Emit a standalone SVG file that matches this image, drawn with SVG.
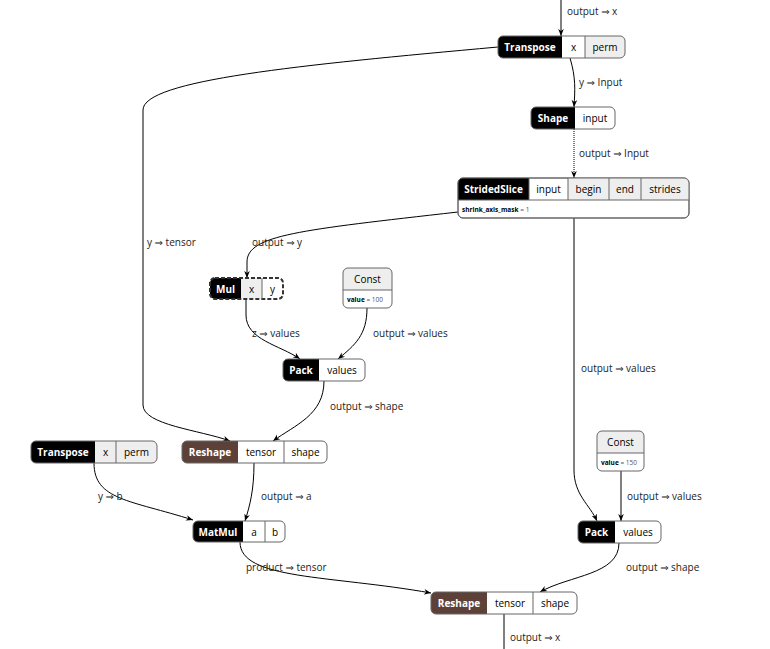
<svg xmlns="http://www.w3.org/2000/svg" width="770" height="649" viewBox="0 0 770 649">
<style>
text{font-family:"Open Sans","DejaVu Sans",sans-serif;font-size:10px;fill:#000}
.t{font-weight:bold;fill:#fff}
.e{fill:none;stroke:#000;stroke-width:1}
.l{font-size:10px;fill:#222}
.b{stroke:#666;stroke-width:1}
.w{fill:#fff}.g{fill:#eee}.k{fill:#000}.r{fill:#5d4037}
.a{font-size:6.5px;fill:#555}
</style>
<defs><marker id="m" viewBox="0 0 10 10" refX="10" refY="5" markerWidth="7" markerHeight="7" orient="auto"><path d="M0,1 L10,5 L0,9 L3,5z" fill="#000"/></marker>
<clipPath id="c1"><rect x="498" y="36" width="127" height="22" rx="5"/></clipPath></defs>
<rect width="770" height="649" fill="#fff"/>
<g id="edges">
<path class="e" d="M561,0 V36" marker-end="url(#m)"/><text class="l" x="567" y="15">output ⇒ x</text>
<path class="e" d="M570,58 C576,78 575,90 574,107" marker-end="url(#m)"/><text class="l" x="579" y="86">y ⇒ Input</text>
<path class="e" d="M574,129 V178" stroke-dasharray="1,1" marker-end="url(#m)"/><text class="l" x="579" y="157">output ⇒ Input</text>
<path class="e" d="M498,47 C300,65 143,80 143,110 V405 C143,425 200,430 230,441" marker-end="url(#m)"/><text class="l" x="147" y="246">y ⇒ tensor</text>
<path class="e" d="M458,212 C300,230 247,235 247,262 V278" marker-end="url(#m)"/><text class="l" x="252" y="246">output ⇒ y</text>
<path class="e" d="M574,218 V470 C574,495 590,505 597,521" marker-end="url(#m)"/><text class="l" x="581" y="372">output ⇒ values</text>
<path class="e" d="M246,299 V315 C246,340 280,345 300,359" marker-end="url(#m)"/><text class="l" x="252" y="337">z ⇒ values</text>
<path class="e" d="M367,308 C367,335 355,345 338,359" marker-end="url(#m)"/><text class="l" x="373" y="337">output ⇒ values</text>
<path class="e" d="M324,381 C324,415 295,425 273,441" marker-end="url(#m)"/><text class="l" x="330" y="410">output ⇒ shape</text>
<path class="e" d="M94,463 C94,500 130,500 193,520" marker-end="url(#m)"/><text class="l" x="98" y="500">y ⇒ b</text>
<path class="e" d="M254,463 C254,490 250,505 245,521" marker-end="url(#m)"/><text class="l" x="261" y="500">output ⇒ a</text>
<path class="e" d="M621,471 V521" marker-end="url(#m)"/><text class="l" x="627" y="500">output ⇒ values</text>
<path class="e" d="M240,542 C240,580 330,575 431,593" marker-end="url(#m)"/><text class="l" x="246" y="571">product ⇒ tensor</text>
<path class="e" d="M619,543 C619,575 570,575 540,592" marker-end="url(#m)"/><text class="l" x="626" y="571">output ⇒ shape</text>
<path class="e" d="M504,614 V649"/><text class="l" x="510" y="641">output ⇒ x</text>
</g>
<g id="transpose1">
<rect class="k" x="498" y="36" width="70" height="22" rx="5"/><rect class="w" x="562" y="36" width="23" height="22"/><rect class="g" x="585" y="36" width="40" height="22" rx="5"/><rect class="g" x="585" y="36" width="20" height="22"/>
<rect x="498" y="36" width="127" height="22" rx="5" fill="none" class="b"/><path class="b" d="M585,36V58"/>
<text class="t" x="530" y="51" text-anchor="middle">Transpose</text><text x="573.5" y="51" text-anchor="middle">x</text><text x="605" y="51" text-anchor="middle">perm</text>
</g>
<g id="shape">
<rect class="k" x="531" y="107" width="50" height="22" rx="5"/><rect class="w" x="575" y="107" width="40" height="22" rx="5"/><rect class="w" x="575" y="107" width="20" height="22"/>
<rect x="531" y="107" width="84" height="22" rx="5" fill="none" class="b"/>
<text class="t" x="553" y="122" text-anchor="middle">Shape</text><text x="595" y="122" text-anchor="middle">input</text>
</g>
<g id="stridedslice">
<rect class="w b" x="458" y="178" width="231" height="40" rx="5"/>
<path class="k" d="M463,178 H529 V200 H458 V183 A5,5 0 0 1 463,178z"/>
<path class="g" d="M568,178 H684 A5,5 0 0 1 689,183 V200 H568z"/>
<path class="b" d="M458,200H689M529,178V200M568,178V200M609,178V200M641,178V200" fill="none"/>
<rect x="458" y="178" width="231" height="40" rx="5" fill="none" class="b"/>
<text class="t" x="493.5" y="193" text-anchor="middle">StridedSlice</text><text x="548.5" y="193" text-anchor="middle">input</text><text x="588.5" y="193" text-anchor="middle">begin</text><text x="625" y="193" text-anchor="middle">end</text><text x="665" y="193" text-anchor="middle">strides</text>
<text class="a" x="462" y="212"><tspan font-weight="bold" fill="#000">shrink_axis_mask</tspan> = 1</text>
</g>
<g id="mul">
<rect class="k" x="210" y="278" width="36" height="21" rx="5"/><rect class="g" x="241" y="278" width="21" height="21"/><rect class="w" x="262" y="278" width="21" height="21" rx="5"/><rect class="w" x="262" y="278" width="10" height="21"/>
<rect x="210" y="278" width="73" height="21" rx="5" fill="none" stroke="#333" stroke-width="2" stroke-dasharray="4,2"/><path d="M262,278V299" stroke="#666"/>
<text class="t" x="225.5" y="292.5" text-anchor="middle">Mul</text><text x="251.5" y="292.5" text-anchor="middle">x</text><text x="272.5" y="292.5" text-anchor="middle">y</text>
</g>
<g id="const1">
<rect class="w" x="343" y="268" width="49" height="40" rx="5"/><path class="g" d="M348,268H387A5,5 0 0 1 392,273V290H343V273A5,5 0 0 1 348,268z"/>
<rect x="343" y="268" width="49" height="40" rx="5" fill="none" class="b"/><path class="b" d="M343,290H392"/>
<text x="367.5" y="283" text-anchor="middle">Const</text><text class="a" x="347" y="302"><tspan font-weight="bold" fill="#000">value</tspan> = 100</text>
</g>
<g id="pack1">
<rect class="k" x="283" y="359" width="42" height="22" rx="5"/><rect class="w" x="319" y="359" width="46" height="22" rx="5"/><rect class="w" x="319" y="359" width="20" height="22"/>
<rect x="283" y="359" width="82" height="22" rx="5" fill="none" class="b"/>
<text class="t" x="301" y="374" text-anchor="middle">Pack</text><text x="342" y="374" text-anchor="middle">values</text>
</g>
<g id="transpose2">
<rect class="k" x="31" y="441" width="70" height="22" rx="5"/><rect class="g" x="95" y="441" width="21" height="22"/><rect class="g" x="116" y="441" width="41" height="22" rx="5"/><rect class="g" x="116" y="441" width="20" height="22"/>
<rect x="31" y="441" width="126" height="22" rx="5" fill="none" class="b"/><path class="b" d="M116,441V463"/>
<text class="t" x="63" y="456" text-anchor="middle">Transpose</text><text x="105.5" y="456" text-anchor="middle">x</text><text x="136.5" y="456" text-anchor="middle">perm</text>
</g>
<g id="reshape1">
<rect class="r" x="182" y="441" width="62" height="22" rx="5"/><rect class="w" x="238" y="441" width="89" height="22" rx="5"/><rect class="w" x="238" y="441" width="20" height="22"/>
<rect x="182" y="441" width="145" height="22" rx="5" fill="none" class="b"/><path class="b" d="M284,441V463"/>
<text class="t" x="210" y="456" text-anchor="middle">Reshape</text><text x="261" y="456" text-anchor="middle">tensor</text><text x="305.5" y="456" text-anchor="middle">shape</text>
</g>
<g id="matmul">
<rect class="k" x="193" y="521" width="56" height="21" rx="5"/><rect class="w" x="243" y="521" width="42" height="21" rx="5"/><rect class="w" x="243" y="521" width="20" height="21"/>
<rect x="193" y="521" width="92" height="21" rx="5" fill="none" class="b"/><path class="b" d="M265,521V542"/>
<text class="t" x="218" y="535.5" text-anchor="middle">MatMul</text><text x="254" y="535.5" text-anchor="middle">a</text><text x="275" y="535.5" text-anchor="middle">b</text>
</g>
<g id="const2">
<rect class="w" x="597" y="431" width="47" height="40" rx="5"/><path class="g" d="M602,431H639A5,5 0 0 1 644,436V453H597V436A5,5 0 0 1 602,431z"/>
<rect x="597" y="431" width="47" height="40" rx="5" fill="none" class="b"/><path class="b" d="M597,453H644"/>
<text x="620.5" y="446" text-anchor="middle">Const</text><text class="a" x="601" y="465"><tspan font-weight="bold" fill="#000">value</tspan> = 150</text>
</g>
<g id="pack2">
<rect class="k" x="578" y="521" width="43" height="22" rx="5"/><rect class="w" x="615" y="521" width="46" height="22" rx="5"/><rect class="w" x="615" y="521" width="20" height="22"/>
<rect x="578" y="521" width="83" height="22" rx="5" fill="none" class="b"/>
<text class="t" x="596.5" y="536" text-anchor="middle">Pack</text><text x="638" y="536" text-anchor="middle">values</text>
</g>
<g id="reshape2">
<rect class="r" x="431" y="592" width="62" height="22" rx="5"/><rect class="w" x="487" y="592" width="90" height="22" rx="5"/><rect class="w" x="487" y="592" width="20" height="22"/>
<rect x="431" y="592" width="146" height="22" rx="5" fill="none" class="b"/><path class="b" d="M533,592V614"/>
<text class="t" x="459" y="607" text-anchor="middle">Reshape</text><text x="510" y="607" text-anchor="middle">tensor</text><text x="555" y="607" text-anchor="middle">shape</text>
</g>
</svg>
